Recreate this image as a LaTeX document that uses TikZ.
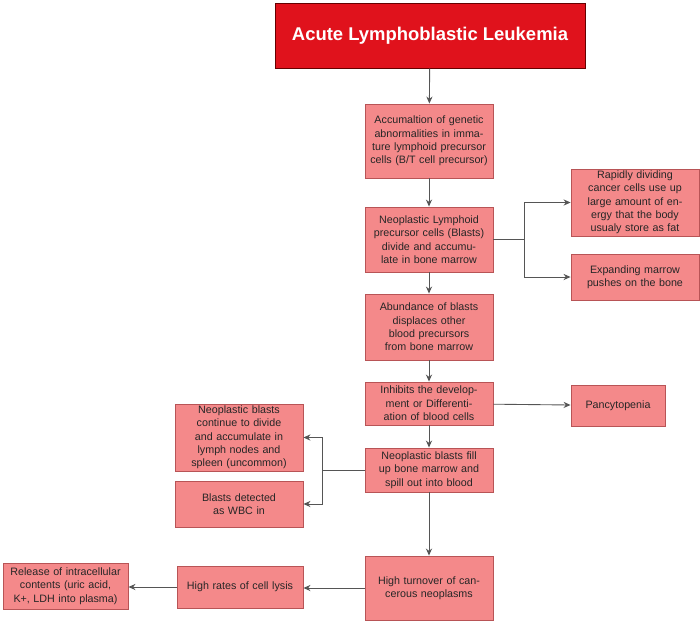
\documentclass[tikz,border=0pt]{standalone}
\usepackage{fontspec}
\setmainfont{Liberation Sans}
\usetikzlibrary{arrows.meta}
\definecolor{boxfill}{HTML}{F4898A}
\definecolor{boxline}{HTML}{B85456}
\definecolor{titlered}{HTML}{E0121C}
\definecolor{linegray}{HTML}{555555}
\tikzset{
 bx/.style={draw=boxline,fill=boxfill,line width=0.5pt,align=center,font=\fontsize{6.1}{7.6}\selectfont,text=black!85,inner sep=1pt},
 arr/.style={draw=linegray,line width=0.5pt,-{Stealth[length=4pt,width=3.5pt]}},
 ln/.style={draw=linegray,line width=0.5pt}
}
\newcommand{\bxat}[6]{\node[bx,minimum width={(#4-#2)*0.02cm},minimum height={(#5-#3)*0.02cm},text width={(#4-#2)*0.02cm-4pt}] (#1) at ({(#2+#4)/2},{(#3+#5)/2}) {#6};}
\begin{document}
\begin{tikzpicture}[x=0.02cm,y=-0.02cm]
\useasboundingbox (0,0) rectangle (700,630);
\node[draw=black!60!red,fill=titlered,minimum width=310*0.02cm,minimum height=65*0.02cm,font=\bfseries\fontsize{10.5}{12}\selectfont,text=white] (t) at (430,35.5) {Acute Lymphoblastic Leukemia};
\bxat{b1}{365}{104}{493}{178}{Accumaltion of genetic abnormalities in immature lymphoid precursor cells (B/T cell precursor)}
\bxat{b2}{365}{207}{493}{272}{Neoplastic Lymphoid precursor cells (Blasts) divide and accumulate in bone marrow}
\bxat{r1}{571}{170}{699}{235}{Rapidly dividing cancer cells use up large amount of energy that the body usualy store as fat}
\bxat{r2}{571}{254}{699}{300}{Expanding marrow pushes on the bone}
\bxat{b3}{365}{294}{493}{360}{Abundance of blasts displaces other blood precursors from bone marrow}
\bxat{b4}{365}{382}{493}{425}{Inhibits the development or Differentiation of blood cells}
\bxat{p}{571}{385}{665}{426}{Pancytopenia}
\bxat{b5}{365}{448}{493}{492}{Neoplastic blasts fill up bone marrow and spill out into blood}
\bxat{l1}{175}{405}{303}{470}{Neoplastic blasts continue to divide and accumulate in lymph nodes and spleen (uncommon)}
\bxat{l2}{175}{481}{303}{527}{Blasts detected as WBC in}
\bxat{b6}{365}{556}{493}{620}{High turnover of cancerous neoplasms}
\bxat{hr}{177}{566}{303}{608}{High rates of cell lysis}
\bxat{rel}{3}{563}{128}{609}{Release of intracellular contents (uric acid, K+, LDH into plasma)}
\draw[arr] (t) -- (b1);
\draw[arr] (b1) -- (b2);
\draw[arr] (b2) -- (b3);
\draw[arr] (b3) -- (b4);
\draw[arr] (b4) -- (b5);
\draw[arr] (b5) -- (b6);
\draw[arr] (b4) -- (p);
\coordinate (fr) at (524,239.5);
\coordinate (fl) at (322,470);
\draw[ln] (b2.east) -- (fr);
\draw[arr] (fr) |- (r1.west);
\draw[arr] (fr) |- (r2.west);
\draw[ln] (b5.west) -- (fl);
\draw[arr] (fl) |- (l1.east);
\draw[arr] (fl) |- (l2.east);
\draw[arr] (b6.west) -- (b6.west -| hr.east);
\draw[arr] (hr) -- (hr -| rel.east);
\end{tikzpicture}
\end{document}
